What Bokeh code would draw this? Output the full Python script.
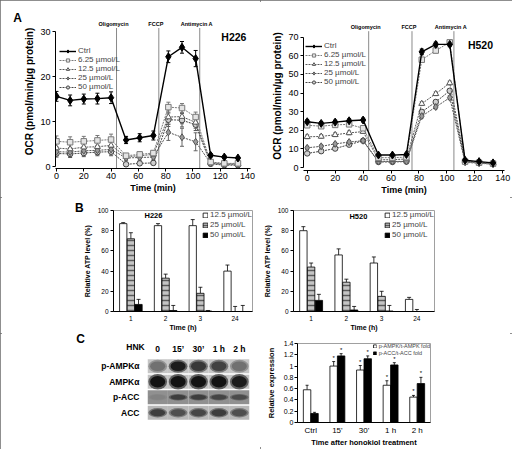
from bokeh.plotting import figure
from bokeh.layouts import column, row
from bokeh.models import (ColumnDataSource, Whisker, TeeHead, Legend, LegendItem,
                          Label, FactorRange)
from bokeh.core.properties import value
from bokeh.transform import dodge
from bokeh.embed import file_html
from bokeh.resources import INLINE

FONT = "Liberation Sans"

# ---------------- Panel A: oxygen consumption rate ----------------
time_min = [0, 10, 20, 30, 40, 51, 61, 71, 82, 92, 102, 113, 123, 133]
injection_time = [44, 75, 105]
injection_names = ["Oligomycin", "FCCP", "Antimycin A"]
ocr_series = ["Ctrl", "6.25 µmol/L", "12.5 µmol/L", "25 µmol/L", "50 µmol/L"]

h226_ctrl = [15.6, 14.7, 15.0, 15.1, 15.3, 5.9, 6.4, 6.9, 24.4, 26.5, 24.0, 2.5, 2.1, 1.9]
h226_625 = [5.6, 5.4, 5.6, 5.8, 6.0, 2.4, 2.7, 3.0, 13.2, 13.0, 11.0, 1.0, 0.7, 0.7]
h226_125 = [4.1, 3.9, 4.3, 4.4, 4.7, 2.2, 2.4, 2.7, 11.0, 11.1, 9.8, 0.9, 0.6, 0.6]
h226_25 = [3.3, 3.2, 3.5, 3.6, 3.8, 1.9, 2.0, 2.1, 7.6, 6.5, 5.5, 0.7, 0.5, 0.5]
h226_50 = [2.9, 2.8, 3.0, 3.2, 3.3, 0.5, 0.7, 0.8, 10.4, 10.3, 9.3, 0.6, 0.3, 0.3]
h226_ctrl_err = [1.1, 1.2, 1.1, 1.2, 1.3, 0.8, 0.9, 1.0, 1.3, 1.3, 1.8, 0.4, 0.3, 0.3]
h226_625_err = [1.2, 1.2, 1.1, 1.1, 1.2, 0.5, 0.5, 0.5, 1.1, 1.0, 1.1, 0.4, 0.5, 0.5]
h226_125_err = [1.0, 1.0, 1.0, 1.0, 1.1, 0.5, 0.5, 0.5, 1.6, 1.6, 1.3, 0.4, 0.4, 0.4]
h226_25_err = [0.9, 0.9, 0.9, 0.9, 1.0, 0.6, 0.6, 0.6, 1.8, 2.0, 2.0, 0.5, 0.5, 0.5]
h226_50_err = [0.8, 0.8, 0.8, 0.8, 0.9, 0.4, 0.4, 0.4, 1.5, 1.5, 1.3, 0.4, 0.4, 0.4]

h520_ctrl = [24.6, 23.7, 24.4, 25.1, 25.5, 6.7, 6.7, 7.0, 62.1, 66.1, 66.1, 3.9, 3.2, 2.5]
h520_625 = [22.7, 22.2, 22.9, 23.2, 21.1, 5.3, 5.3, 5.6, 57.9, 62.8, 67.2, 3.2, 2.6, 2.1]
h520_125 = [16.5, 16.7, 17.6, 18.6, 19.3, 4.2, 4.2, 4.6, 34.3, 39.6, 45.4, 3.5, 2.8, 2.3]
h520_25 = [10.6, 11.4, 12.7, 13.7, 14.4, 3.3, 3.3, 3.3, 27.6, 32.5, 37.5, 2.8, 2.3, 1.8]
h520_50 = [7.6, 8.8, 10.2, 12.3, 14.4, 3.0, 3.0, 3.2, 29.9, 35.2, 41.2, 3.2, 2.5, 1.8]
h520_ctrl_err = [1.0, 1.0, 1.0, 1.0, 1.0, 0.6, 0.6, 0.6, 1.5, 1.2, 1.2, 0.5, 0.5, 0.5]
h520_625_err = [1.0, 1.0, 1.0, 1.0, 1.0, 0.6, 0.6, 0.6, 1.2, 1.2, 1.2, 0.5, 0.5, 0.5]
h520_125_err = [1.0, 1.0, 1.0, 1.0, 1.0, 0.6, 0.6, 0.6, 1.0, 1.0, 1.0, 0.5, 0.5, 0.5]
h520_25_err = [0.8, 0.8, 0.8, 0.8, 0.8, 0.5, 0.5, 0.5, 1.0, 1.0, 1.0, 0.5, 0.5, 0.5]
h520_50_err = [0.8, 0.8, 0.8, 0.8, 0.8, 0.5, 0.5, 0.5, 1.0, 1.0, 1.0, 0.5, 0.5, 0.5]

# ---------------- Panel B: relative ATP level ----------------
atp_hours = ["1", "2", "3", "24"]
atp_doses = ["12.5 µmol/L", "25 µmol/L", "50 µmol/L"]
h226_atp_125 = [87, 85, 85, 40]
h226_atp_25 = [72, 33, 18, 0]
h226_atp_50 = [7, 1, 0.5, 0]
h226_atp_125_err = [1, 2, 6, 6]
h226_atp_25_err = [6, 4, 6, 5]
h226_atp_50_err = [5, 5, 0.5, 6]
h520_atp_125 = [80, 56, 48, 12]
h520_atp_25 = [44, 29, 15, 0]
h520_atp_50 = [11, 1.5, 0.5, 0]
h520_atp_125_err = [4, 6, 6, 2]
h520_atp_25_err = [4, 3, 5, 2]
h520_atp_50_err = [6, 3.5, 5.5, 0]

# ---------------- Panel C: western blot + quantification ----------------
hnk_lanes = ["0", "15\u2019", "30\u2019", "1 h", "2 h"]
blot_rows = ["p-AMPK\u03b1", "AMPK\u03b1", "p-ACC", "ACC"]
band_p_ampk = [0.45, 0.9, 0.75, 0.7, 0.45]
band_ampk = [0.95, 0.95, 0.95, 0.95, 0.9]
band_p_acc = [0.1, 0.6, 0.6, 0.55, 0.5]
band_acc = [0.7, 0.6, 0.65, 0.7, 0.6]

expr_times = ["Ctrl", "15'", "30'", "1 h", "2 h"]
expr_series = ["p-AMPK/t-AMPK fold", "p-ACC/t-ACC fold"]
ampk_fold = [0.58, 1.00, 0.93, 0.66, 0.45]
ampk_fold_err = [0.08, 0.08, 0.08, 0.08, 0.03]
acc_fold = [0.16, 1.18, 1.13, 1.02, 0.69]
acc_fold_err = [0.02, 0.04, 0.05, 0.04, 0.11]
ampk_sig = ["", "*", "*", "*", "*"]
acc_sig = ["", "*", "*", "*", "*"]


def new_fig(width, height, borders, **kw):
    p = figure(width=width, height=height, output_backend="svg", toolbar_location=None,
               min_border_left=borders[0], min_border_right=borders[1],
               min_border_top=borders[2], min_border_bottom=borders[3], **kw)
    p.frame_align = False
    return p


def style_axes(p, tick_size, label_size, tick_standoff=2, label_standoff=2):
    for ax in p.axis:
        ax.axis_line_color = "black"
        ax.major_tick_line_color = "black"
        ax.major_tick_in = 0
        ax.major_tick_out = 3
        ax.minor_tick_line_color = None
        ax.major_label_text_font = FONT
        ax.major_label_text_font_size = tick_size
        ax.major_label_text_color = "black"
        ax.major_label_standoff = tick_standoff
        ax.axis_label_text_font = FONT
        ax.axis_label_text_font_size = label_size
        ax.axis_label_text_font_style = "bold"
        ax.axis_label_text_color = "black"
        ax.axis_label_standoff = label_standoff
    p.xgrid.grid_line_color = None
    p.ygrid.grid_line_color = None
    p.background_fill_color = "white"
    p.border_fill_color = "white"


def label(p, x, y, text, size, bold=True, align="center", baseline="middle", side=None):
    lab = Label(x=x, y=y, text=text, text_font=FONT, text_font_size=size,
                text_font_style="bold" if bold else "normal",
                text_align=align, text_baseline=baseline, text_color="black")
    if side is None:
        p.add_layout(lab)
    else:
        p.add_layout(lab, side)


def make_legend(items, loc, font_size, row_h, glyph_w, glyph_h, standoff, spacing, padding):
    return Legend(items=items, location=loc, label_text_font=FONT,
                  label_text_font_size=font_size, label_text_line_height=0.8,
                  label_height=row_h, glyph_height=glyph_h, glyph_width=glyph_w,
                  label_standoff=standoff, spacing=spacing, padding=padding, margin=0,
                  background_fill_alpha=0, border_line_color=None)


ocr_styles = [
    dict(marker="diamond", size=8, fill="black", line="black", dash="solid", lw=1.4, err="black"),
    dict(marker="square", size=5.5, fill="#e4e4e4", line="#7a7a7a", dash="2 1", lw=1, err="#777777"),
    dict(marker="triangle", size=6, fill="white", line="#5a5a5a", dash="2 1", lw=1, err="#666666"),
    dict(marker="diamond", size=7, fill="#9a9a9a", line="#555555", dash="2 1", lw=1, err="#666666"),
    dict(marker="circle", size=5.5, fill="#d0d0d0", line="#444444", dash="2 1", lw=1, err="#555555"),
]


def ocr_panel(width, values, errors, x_rng, y_rng, y_bounds, y_ticks, borders, line_top,
              cell, cell_xy, legend_loc):
    p = new_fig(width, 197, borders, x_range=x_rng, y_range=y_rng)
    p.outline_line_color = None
    inj = ColumnDataSource(dict(x=injection_time, name=injection_names,
                                y0=[y_rng[0]] * len(injection_time),
                                y1=[line_top] * len(injection_time)))
    p.segment(x0="x", x1="x", y0="y0", y1="y1", source=inj, line_color="#8a8a8a", line_width=1)
    p.text(x="x", y="y1", text="name", source=inj, text_font=value(FONT),
           text_font_size=value("5.5px"), text_font_style="bold", text_align="center",
           text_baseline="bottom", x_offset=-3, y_offset=-1, text_color="black")
    items = []
    for name, vals, errs, st in reversed(list(zip(ocr_series, values, errors, ocr_styles))):
        src = ColumnDataSource(dict(x=time_min, y=vals,
                                    up=[v + e for v, e in zip(vals, errs)],
                                    lo=[v - e for v, e in zip(vals, errs)]))
        w = Whisker(base="x", upper="up", lower="lo", source=src, line_color=st["err"], line_width=1,
                    upper_head=TeeHead(size=4, line_color=st["err"], line_width=1),
                    lower_head=TeeHead(size=4, line_color=st["err"], line_width=1))
        p.add_layout(w)
        ln = p.line("x", "y", source=src, line_color=st["line"], line_width=st["lw"],
                    line_dash=st["dash"])
        sc = p.scatter("x", "y", source=src, marker=st["marker"], size=st["size"],
                       fill_color=st["fill"], line_color=st["line"], line_width=1)
        items.insert(0, LegendItem(label=name, renderers=[ln, sc]))
    p.add_layout(make_legend(items, legend_loc, "8px", 8, 17, 8, 2, 0, 0))
    p.xaxis.ticker = [0, 20, 40, 60, 80, 100, 120, 140]
    p.yaxis.ticker = y_ticks
    p.yaxis.bounds = y_bounds
    p.xaxis.axis_label = "Time (min)"
    p.yaxis.axis_label = "OCR (pmol/min/\u00b5g protein)"
    style_axes(p, "9px", "9px", tick_standoff=2, label_standoff=2)
    p.yaxis.axis_label_text_font_size = "10px"
    p.xaxis.major_label_standoff = 1
    p.xaxis.axis_label_standoff = 1
    label(p, cell_xy[0], cell_xy[1], cell, "10.5px")
    return p


pA1 = ocr_panel(260, [h226_ctrl, h226_625, h226_125, h226_25, h226_50],
                [h226_ctrl_err, h226_625_err, h226_125_err, h226_25_err, h226_50_err],
                (-0.73, 142.2), (-0.44, 33.8), (0, 30), [0, 10, 20, 30], (55, 10, 14, 29),
                30.8, "H226", (130, 28.7), (4, 77))
label(pA1, -28.6, 33.1, "A", "12px", side="left")

pA2 = ocr_panel(252, [h520_ctrl, h520_625, h520_125, h520_25, h520_50],
                [h520_ctrl_err, h520_625_err, h520_125_err, h520_25_err, h520_50_err],
                (-2.65, 141.2), (-1.58, 78.4), (0, 70), [0, 10, 20, 30, 40, 50, 60, 70],
                (43, 8, 21, 24), 73.2, "H520", (124, 65.8), (2, 84))


atp_styles = [
    dict(fill="white", hatch=None),
    dict(fill="#c4c4c4", hatch="horizontal_line"),
    dict(fill="black", hatch=None),
]


def atp_panel(width, values, errors, borders, cell, cell_xy):
    p = new_fig(width, 136, borders, x_range=FactorRange(factors=atp_hours), y_range=(0, 100))
    p.outline_line_color = "#a0a0a0"
    items = []
    offsets = [-0.22, 0.0, 0.22]
    for dose, vals, errs, st, off in zip(atp_doses, values, errors, atp_styles, offsets):
        src = ColumnDataSource(dict(h=atp_hours, v=vals, up=[a + b for a, b in zip(vals, errs)]))
        kw = {}
        if st["hatch"]:
            kw = dict(hatch_pattern=st["hatch"], hatch_color="#5a5a5a", hatch_scale=5, hatch_weight=1.5)
        r = p.vbar(x=dodge("h", off, range=p.x_range), top="v", width=0.21, source=src,
                   fill_color=st["fill"], line_color="black", line_width=0.8, **kw)
        p.add_layout(Whisker(base=dodge("h", off, range=p.x_range), upper="up", lower="v",
                             source=src, line_color="black", line_width=0.8,
                             upper_head=TeeHead(size=4, line_color="black", line_width=0.8),
                             lower_head=None))
        items.append(LegendItem(label=dose, renderers=[r]))
    p.add_layout(make_legend(items, "top_right", "8px", 8, 6, 6, 2, 1, 3))
    p.yaxis.ticker = [0, 20, 40, 60, 80, 100]
    p.xaxis.axis_label = "Time (h)"
    p.yaxis.axis_label = "Relative ATP level (%)"
    style_axes(p, "6.5px", "7px", tick_standoff=2, label_standoff=4)
    p.xaxis.major_tick_out = 0
    p.xaxis.major_label_standoff = 4
    p.xaxis.axis_label_standoff = 0
    label(p, cell_xy[0], cell_xy[1], cell, "7.5px")
    return p


pB1 = atp_panel(260, [h226_atp_125, h226_atp_25, h226_atp_50],
                [h226_atp_125_err, h226_atp_25_err, h226_atp_50_err],
                (113, 8, 13, 21), "H226", (1.15, 95))
label(pB1, -0.98, 102, "B", "12px", side="left")
pB2 = atp_panel(252, [h520_atp_125, h520_atp_25, h520_atp_50],
                [h520_atp_125_err, h520_atp_25_err, h520_atp_50_err],
                (33, 78, 13, 21), "H520", (1.84, 94))

# ---- C left: western blot ----
row_bottom_up = list(reversed(blot_rows))
pC1 = new_fig(260, 116, (147, 11, 25, 29), x_range=FactorRange(factors=hnk_lanes),
              y_range=FactorRange(factors=row_bottom_up), x_axis_location="above")
pC1.outline_line_color = None
row_bg = {"p-AMPK\u03b1": 198, "AMPK\u03b1": 196, "p-ACC": 144, "ACC": 184}
row_band_h = {"p-AMPK\u03b1": 0.62, "AMPK\u03b1": 0.74, "p-ACC": 0.32, "ACC": 0.45}
intens = {"p-AMPK\u03b1": band_p_ampk, "AMPK\u03b1": band_ampk, "p-ACC": band_p_acc, "ACC": band_acc}


def gray(v):
    v = int(max(0, min(255, v)))
    return "#%02x%02x%02x" % (v, v, v)


cx, cy, bgc, c_out, c_in, h_in = [], [], [], [], [], []
for rname in blot_rows:
    for lane, it in zip(hnk_lanes, intens[rname]):
        bg = row_bg[rname]
        cx.append(lane)
        cy.append(rname)
        bgc.append(gray(bg))
        c_out.append(gray(bg * (1 - 0.55 * it)))
        c_in.append(gray(bg * (1 - 0.95 * it)))
        h_in.append(row_band_h[rname])
blot = ColumnDataSource(dict(x=cx, y=cy, bg=bgc, co=c_out, ci=c_in, h=h_in,
                             ho=[h * 1.35 for h in h_in]))
pC1.rect(x="x", y="y", width=1.0, height=0.9, source=blot, fill_color="bg", line_color=None)
pC1.ellipse(x="x", y="y", width=0.92, height="ho", source=blot, fill_color="co", line_color=None)
pC1.ellipse(x="x", y="y", width=0.74, height="h", source=blot, fill_color="ci", line_color=None)
style_axes(pC1, "8.5px", "8.5px")
for ax in pC1.axis:
    ax.axis_line_color = None
    ax.major_tick_line_color = None
    ax.major_tick_out = 0
    ax.major_label_text_font_style = "bold"
pC1.xaxis.major_label_standoff = 5
pC1.yaxis.major_label_standoff = 8
label(pC1, -0.59, 4.71, "HNK", "8.5px", side="left")
label(pC1, -3.28, 5.23, "C", "12px", side="left")

# ---- C right: quantification ----
pC2 = new_fig(252, 116, (37, 82, 10, 23), x_range=FactorRange(factors=expr_times), y_range=(0, 1.4))
pC2.outline_line_color = "#a0a0a0"
items = []
for name, vals, errs, sig, fill, off in [(expr_series[0], ampk_fold, ampk_fold_err, ampk_sig, "white", -0.14),
                                          (expr_series[1], acc_fold, acc_fold_err, acc_sig, "black", 0.14)]:
    src = ColumnDataSource(dict(t=expr_times, v=vals, up=[a + b for a, b in zip(vals, errs)], s=sig))
    r = pC2.vbar(x=dodge("t", off, range=pC2.x_range), top="v", width=0.28, source=src,
                 fill_color=fill, line_color="black", line_width=0.8)
    pC2.add_layout(Whisker(base=dodge("t", off, range=pC2.x_range), upper="up", lower="v",
                           source=src, line_color="black", line_width=0.8,
                           upper_head=TeeHead(size=3, line_color="black", line_width=0.8),
                           lower_head=None))
    pC2.text(x=dodge("t", off, range=pC2.x_range), y="up", text="s", source=src,
             text_font=value(FONT), text_font_size=value("6px"), text_align="center",
             text_baseline="bottom", y_offset=-1, text_color="black")
    items.append(LegendItem(label=name, renderers=[r]))
pC2.add_layout(make_legend(items, "top_right", "5.5px", 6, 4, 4, 2, 1, 2))
pC2.yaxis.ticker = [0, 0.2, 0.4, 0.6, 0.8, 1.0, 1.2, 1.4]
pC2.yaxis.major_label_overrides = {0: "0", 1: "1"}
pC2.xaxis.axis_label = "Time after honokiol treatment"
pC2.yaxis.axis_label = "Relative expression"
style_axes(pC2, "7px", "7.5px", tick_standoff=1, label_standoff=5)
pC2.xaxis.major_tick_out = 0
pC2.xaxis.major_label_standoff = 3
pC2.xaxis.axis_label_standoff = 0
pC2.xaxis.major_label_text_font_size = "8px"

layout = column(row(pA1, pA2), row(pB1, pB2), row(pC1, pC2),
                styles={"outline": "2px solid #6a6a6a", "outline-offset": "-2px"})
open("out.html", "w").write(file_html(layout, INLINE))
